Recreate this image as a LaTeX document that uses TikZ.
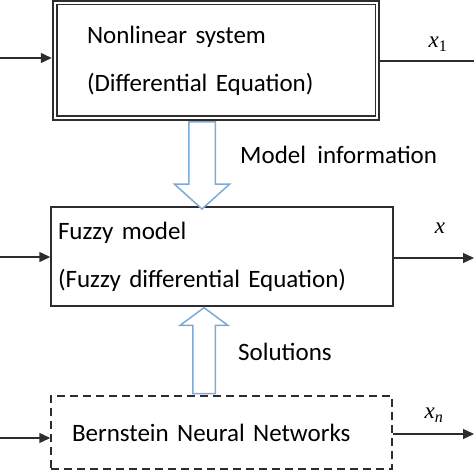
\documentclass[tikz,border=0pt]{standalone}
\usepackage{fontspec}
\setmainfont{Carlito}
\newfontfamily\timesfont{Liberation Serif}
\usetikzlibrary{shapes.arrows, arrows.meta, positioning, calc}
\definecolor{hollowblue}{RGB}{125, 170, 215}
\definecolor{linegray}{RGB}{45, 45, 45}

\begin{document}
\begin{tikzpicture}[x=1pt, y=1pt,
  blockbox/.style={draw=linegray, line width=1.5pt, inner sep=0pt, align=left, font=\fontsize{25}{48}\selectfont},
  hollow/.style={single arrow, draw=hollowblue, line width=1.5pt, fill=white},
  sig/.style={draw=linegray, line width=1.5pt, -{Triangle[length=11pt, width=10pt]}},
  lbl/.style={font=\fontsize{25}{30}\selectfont, inner sep=0pt},
  outlbl/.style={font=\timesfont\itshape\fontsize{23}{26}\selectfont, inner sep=0pt}
]
  \useasboundingbox (0,0) rectangle (474,474);
  % the three blocks
  \node[blockbox, line width=2.5pt, minimum width=326pt, minimum height=119pt, text width=258pt] (sys) at (216, 413.5) {Nonlinear system\\(Differential Equation)};
  \draw[linegray, line width=1.5pt] ([shift={(5,-5)}]sys.north west) rectangle ([shift={(-5,5)}]sys.south east);
  \node[blockbox, minimum width=342pt, minimum height=99pt, text width=328pt] (fuzzy) at (222, 217.5) {Fuzzy model\\(Fuzzy differential Equation)};
  \node[blockbox, dash pattern=on 8pt off 5pt, minimum width=341pt, minimum height=73pt, text width=299pt] (bnn) at (221.5, 41.5) {Bernstein Neural Networks};

  % hollow arrows between blocks
  \node[hollow, inner sep=12.5pt, shape border rotate=270, minimum height=87pt, single arrow head extend=14.5pt, single arrow tip angle=96, anchor=tail] (down) at ([xshift=-14pt]sys.south) {};
  \node[hollow, inner sep=10.5pt, shape border rotate=90, minimum height=86pt, single arrow head extend=12.5pt, single arrow tip angle=107, anchor=tip] (up) at ([xshift=-18pt]fuzzy.south) {};
  \node[lbl, anchor=west] (minfo) at (240, 319) {Model\ \ information};
  \node[lbl, anchor=west] (sol) at (238, 122) {Solutions};

  % inputs and outputs
  \coordinate (in1) at (0, 416);
  \coordinate (in2) at (0, 217);
  \coordinate (in3) at (0, 36);
  \coordinate (out1) at (474, 413);
  \coordinate (out2) at (474, 216);
  \coordinate (out3) at (474, 40);
  \draw[sig] (in1) -- (in1 -| sys.west);
  \draw[sig] (in2) -- (in2 -| fuzzy.west);
  \draw[sig] (in3) -- (in3 -| bnn.west);
  \draw[linegray, line width=1.5pt] (out1 -| sys.east) -- (out1);
  \draw[sig] (out2 -| fuzzy.east) -- (out2);
  \draw[sig] (out3 -| bnn.east) -- (out3);
  \node[outlbl] (x1) at (438, 430) {x\textsubscript{\upshape 1}};
  \node[outlbl] (xo) at (440, 246) {x};
  \node[outlbl] (xn) at (434, 59) {x\textsubscript{n}};
\end{tikzpicture}
\end{document}
